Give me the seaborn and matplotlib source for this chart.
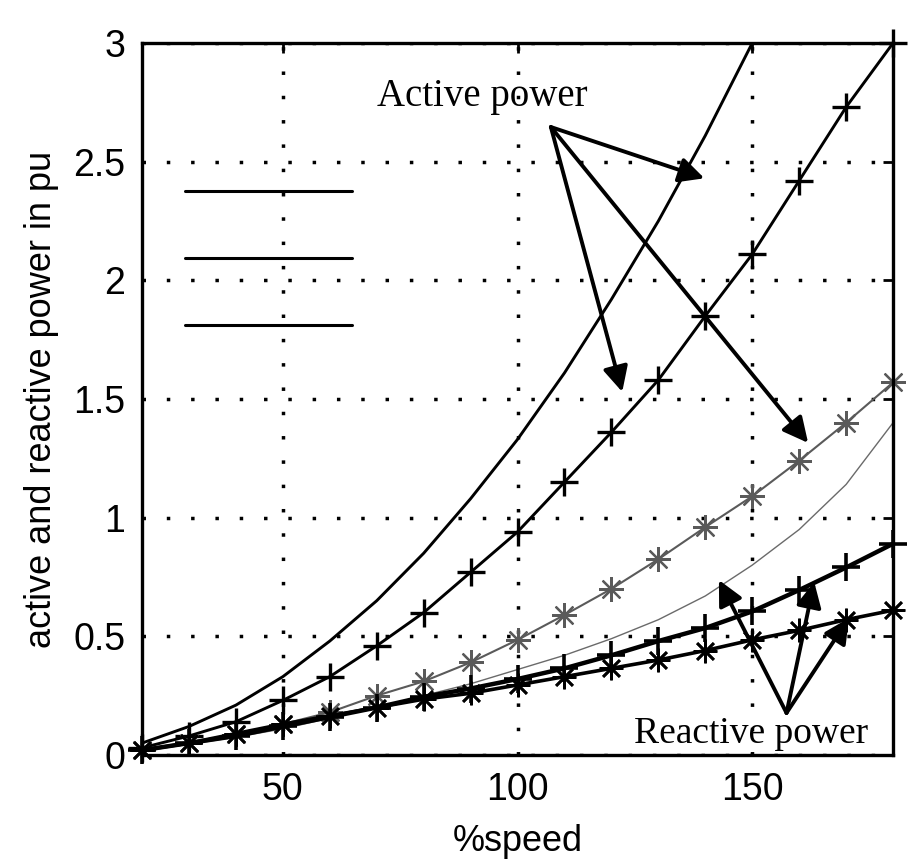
import matplotlib
matplotlib.use('Agg')
import matplotlib.pyplot as plt
from matplotlib.lines import Line2D
import numpy as np
import pandas as pd
import seaborn as sns

sns.set_style('white')
plt.rcParams['font.family'] = ['Liberation Sans', 'DejaVu Sans']
plt.rcParams['text.color'] = 'black'
plt.rcParams['axes.labelcolor'] = 'black'
plt.rcParams['xtick.color'] = 'black'
plt.rcParams['ytick.color'] = 'black'

# %speed sample points (markers every 10 %)
speed = [20, 30, 40, 50, 60, 70, 80, 90, 100, 110, 120, 130, 140, 150, 160, 170, 180]

# active power curves
active_plain = [0.05, 0.12, 0.21, 0.33, 0.48, 0.65, 0.85, 1.08, 1.33, 1.61, 1.92, 2.25, 2.61, 3.0, 3.4]
active_plus = [0.03, 0.08, 0.14, 0.23, 0.33, 0.46, 0.60, 0.77, 0.94, 1.15, 1.36, 1.58, 1.85, 2.11, 2.42, 2.73, 3.0]
active_star = [0.02, 0.05, 0.09, 0.13, 0.18, 0.25, 0.31, 0.39, 0.485, 0.59, 0.70, 0.825, 0.96, 1.09, 1.24, 1.40, 1.57]

# reactive power curves
reactive_plain = [0.02, 0.045, 0.075, 0.11, 0.155, 0.20, 0.25, 0.30, 0.36, 0.42, 0.49, 0.57, 0.67, 0.80, 0.95, 1.14, 1.40]
reactive_plus = [0.02, 0.05, 0.08, 0.12, 0.16, 0.20, 0.245, 0.28, 0.32, 0.365, 0.42, 0.48, 0.535, 0.605, 0.695, 0.79, 0.89]
reactive_star = [0.02, 0.05, 0.09, 0.13, 0.165, 0.20, 0.235, 0.26, 0.295, 0.33, 0.365, 0.40, 0.44, 0.485, 0.525, 0.57, 0.61]

x_ticks = [50, 100, 150]
y_ticks = [0, 0.5, 1, 1.5, 2, 2.5, 3]
y_tick_labels = ['0', '0.5', '1', '1.5', '2', '2.5', '3']

# annotation text anchors and arrow ends (data units)
active_text = (70, 2.735)
active_tail = (107.1, 2.646)
active_heads = [(139.8, 2.43), (122.3, 1.53), (161.9, 1.315)]
reactive_text = (124.9, 0.05)
reactive_tail = (157.3, 0.177)
reactive_heads = [(142.9, 0.737), (163.2, 0.729), (170.6, 0.577)]

fig = plt.figure(figsize=(9.14, 8.64), dpi=100)
ax = fig.add_axes([0.1554, 0.1262, 0.8217, 0.824])

asterisk = (8, 2, 0)
gray = '#5a5a5a'

sns.lineplot(x=speed[:len(active_plain)], y=active_plain, ax=ax, color='black', lw=2.1)
sns.lineplot(x=speed, y=active_plus, ax=ax, color='black', lw=2.1, clip_on=False,
             marker='+', markersize=20, mew=2.4, mec='black')
sns.lineplot(x=speed, y=active_star, ax=ax, color=gray, lw=1.5, clip_on=False,
             marker=asterisk, markersize=18, mew=1.6, mec=gray)
sns.lineplot(x=speed, y=reactive_plain, ax=ax, color='#6a6a6a', lw=1.0, clip_on=False)
sns.lineplot(x=speed, y=reactive_plus, ax=ax, color='black', lw=3.2, clip_on=False,
             marker='+', markersize=20, mew=2.6, mec='black')
sns.lineplot(x=speed, y=reactive_star, ax=ax, color='black', lw=2.6, clip_on=False,
             marker=asterisk, markersize=17, mew=1.9, mec='black')

ax.set_xlim(20, 180)
ax.set_ylim(0, 3)
ax.set_xticks(x_ticks)
ax.set_yticks(y_ticks)
ax.set_yticklabels(y_tick_labels)
ax.grid(True, color='black', linestyle=(0, (1, 6)), linewidth=2.5)
ax.tick_params(axis='both', direction='in', length=7, width=2, labelsize=27,
               top=True, right=True, pad=12)
for s in ax.spines.values():
    s.set_color('black')
    s.set_linewidth(2.4)

ax.set_xlabel('%speed', fontsize=26, labelpad=12)
ax.set_ylabel('active and reactive power in pu', fontsize=26, labelpad=10)

# legend handles whose text was lost in the original
handles = [Line2D([], [], color='black', lw=2.2) for _ in range(3)]
ax.legend(handles, [' ', ' ', ' '], loc='upper left', bbox_to_anchor=(0.057, 0.806),
          frameon=False, fontsize=18, handlelength=6.7, handletextpad=0,
          labelspacing=1.72, borderpad=0, borderaxespad=0)

arrow = dict(arrowstyle='-|>', color='black', lw=2.8, mutation_scale=38, shrinkA=0, shrinkB=0)
ax.text(*active_text, 'Active power', fontsize=28, family=['Liberation Serif', 'DejaVu Serif'],
        ha='left', va='baseline')
for head in active_heads:
    ax.annotate('', xy=head, xytext=active_tail, arrowprops=arrow)
ax.text(*reactive_text, 'Reactive power', fontsize=27, family=['Liberation Serif', 'DejaVu Serif'],
        ha='left', va='baseline')
for head in reactive_heads:
    ax.annotate('', xy=head, xytext=reactive_tail, arrowprops=arrow)

plt.savefig('out.png', dpi=100)
